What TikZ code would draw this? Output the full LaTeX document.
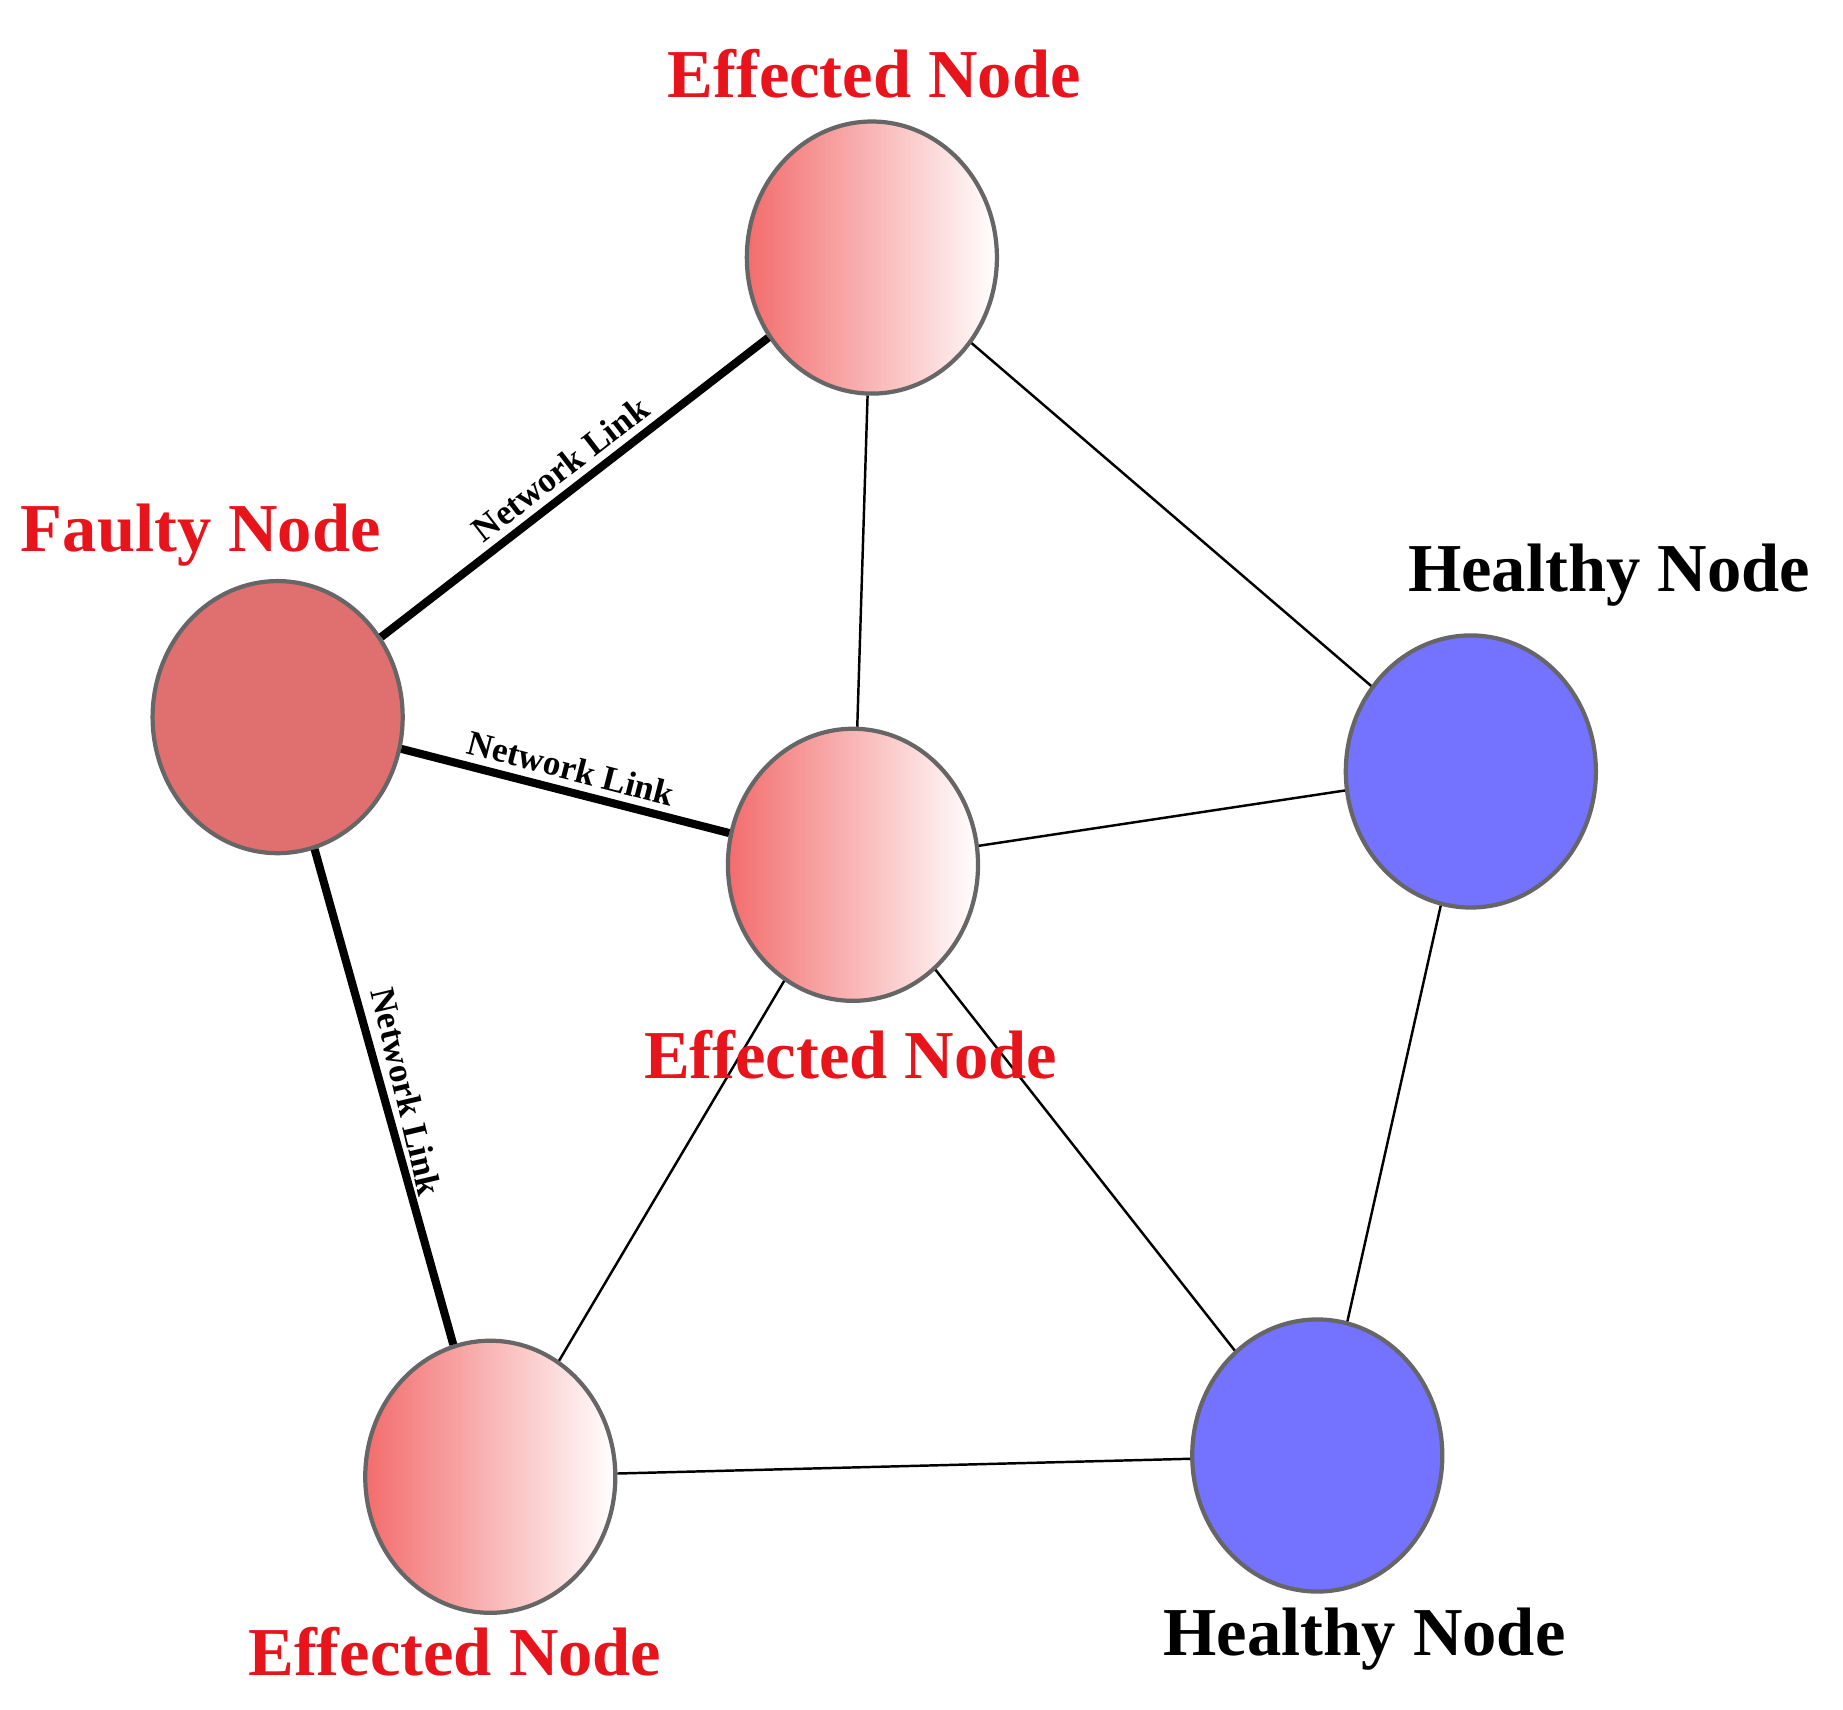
\documentclass[tikz,border=0pt]{standalone}
\usepackage{fontspec}
\setmainfont{Liberation Serif}
\usetikzlibrary{shapes.geometric}
\definecolor{effred}{HTML}{F25C5C}
\definecolor{faulty}{HTML}{E07070}
\definecolor{healthy}{HTML}{7373FF}
\definecolor{lbl}{HTML}{E8141C}
\begin{document}
\begin{tikzpicture}[x=0.011814cm,y=-0.011814cm,
  nd/.style={ellipse,draw=gray!80!black,line width=1.2pt,minimum width=2.5cm,minimum height=2.72cm,inner sep=0pt},
  eff/.style={nd,left color=effred!90,right color=white},
  flt/.style={nd,fill=faulty},
  hlt/.style={nd,fill=healthy},
  thin/.style={line width=0.7pt},
  thick/.style={line width=2.3pt},
  ttl/.style={font=\bfseries\fontsize{19.5}{22}\selectfont},
  lk/.style={font=\bfseries\fontsize{10}{12}\selectfont,inner sep=2pt}]
\useasboundingbox (0,0) rectangle (1560,1447);
\node[eff] (top) at (738,218) {};
\node[flt] (f) at (235,607) {};
\node[eff] (mid) at (722,732) {};
\node[hlt] (hr) at (1245,653) {};
\node[eff] (bl) at (415,1250) {};
\node[hlt] (hb) at (1115,1232) {};
\draw[thin] (top) -- (mid);
\draw[thin] (top) -- (hr);
\draw[thin] (mid) -- (hr);
\draw[thin] (mid) -- (bl);
\draw[thin] (mid) -- (hb);
\draw[thin] (hr) -- (hb);
\draw[thin] (bl) -- (hb);
\draw[thick] (f) -- node[lk,sloped,above]{Network Link} (top);
\draw[thick] (f) -- node[lk,sloped,above]{Network Link} (mid);
\draw[thick] (f) -- node[lk,rotate=-76.7,anchor=south]{Network Link} (bl);
\node[ttl,text=lbl] (t1) at (740,62) {Effected Node};
\node[ttl,text=lbl] (t2) at (170,453) {Faulty Node};
\node[ttl] (t3) at (1362,487) {Healthy Node};
\node[ttl,text=lbl] (t4) at (720,893) {Effected Node};
\node[ttl,text=lbl] (t5) at (385,1398) {Effected Node};
\node[ttl] (t6) at (1155,1387) {Healthy Node};
\end{tikzpicture}
\end{document}
